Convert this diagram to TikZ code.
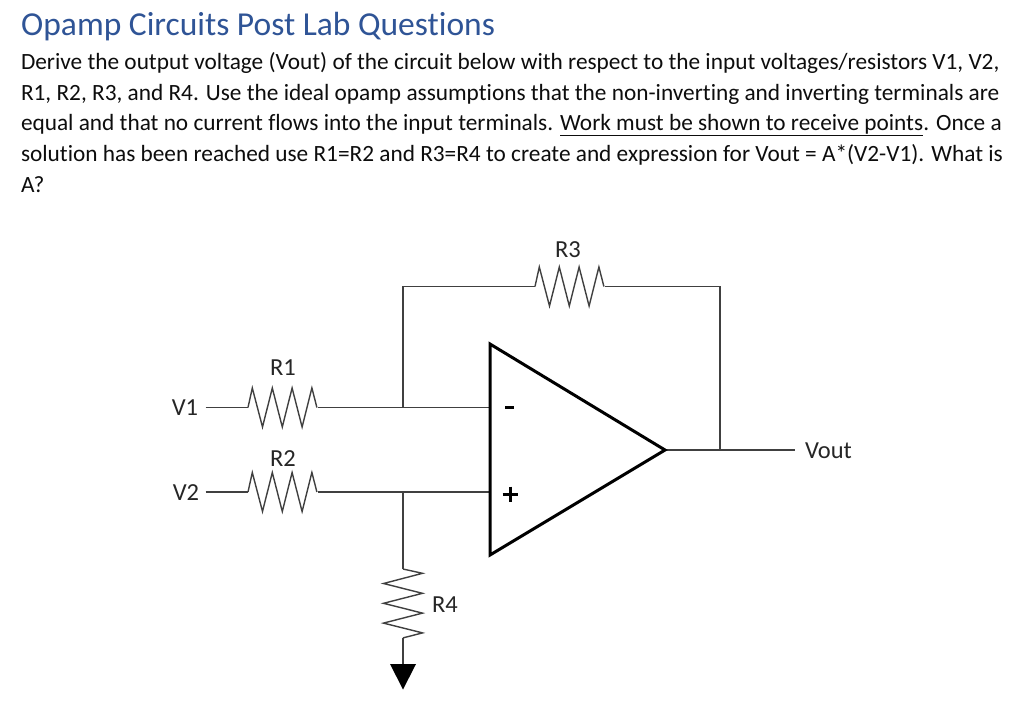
\documentclass[tikz,border=0pt]{standalone}
\usepackage{fontspec}
\setmainfont[Ligatures=NoCommon]{Carlito}
\definecolor{titleblue}{HTML}{2F5496}
\definecolor{wire}{HTML}{404040}
\newcommand{\bodysize}{\fontsize{23.3}{27}\selectfont}
\newcommand{\labsize}{\fontsize{24.5}{28}\selectfont}
\tikzset{
  x=1pt,y=-1pt,
  txt/.style={anchor=base west,inner sep=0pt,outer sep=0pt,font=\bodysize,text=black!95},
  lab/.style={anchor=base,inner sep=0pt,outer sep=0pt,font=\labsize,text=black!85},
  wireline/.style={draw=wire,line width=1.4pt,line join=miter},
  amp/.style={draw=black,line width=3pt,line join=miter},
  pt/.style={inner sep=0pt,outer sep=0pt,minimum size=0pt}
}
\newcommand{\reshor}[2]{% start x, y
  \draw[wireline] (#1,#2) -- ++(4.3,-19.5) -- ++(10.2,39) -- ++(9.8,-39) -- ++(10,39) -- ++(9.8,-39) -- ++(10,39) -- ++(9.8,-39) -- ++(5,19.5);
}
\begin{document}
\begin{tikzpicture}
\useasboundingbox (0,0) rectangle (1024,707);
\fill[white] (0,0) rectangle (1024,707);
% text
\node[anchor=base west,inner sep=0pt,font=\fontsize{33.5}{38}\selectfont,text=titleblue] (title) at (21,35) {Opamp Circuits Post Lab Questions};
\node[txt] (l1) at (21,69) {Derive the output voltage (Vout) of the circuit below with respect to the input voltages/resistors V1, V2,};
\node[txt] (l2) at (21,100) {R1, R2, R3, and R4. Use the ideal opamp assumptions that the non-inverting and inverting terminals are};
\node[txt] (l3) at (21,130.5) {equal and that no current flows into the input terminals. \underline{Work must be shown to receive points}. Once a};
\node[txt] (l4) at (21,161) {solution has been reached use R1=R2 and R3=R4 to create and expression for Vout = A*(V2-V1). What is};
\node[txt] (l5) at (21,192) {A?};
% junctions
\coordinate (v1e) at (205.5,407.5);
\coordinate (r1a) at (248,407.5);
\coordinate (r1b) at (317.5,407.5);
\coordinate (j1) at (403,407.5);
\coordinate (inm) at (490,407.5);
\coordinate (v2e) at (205.5,492);
\coordinate (r2a) at (248,492);
\coordinate (r2b) at (317.5,492);
\coordinate (j2) at (403,492);
\coordinate (inp) at (490,492);
\coordinate (tl) at (403,286.5);
\coordinate (r3a) at (535,286.5);
\coordinate (r3b) at (604.5,286.5);
\coordinate (tr) at (720,286.5);
\coordinate (oa) at (665,450);
\coordinate (jo) at (720,450);
\coordinate (ve) at (795,450);
\coordinate (r4a) at (403,569);
\coordinate (r4b) at (403,638);
\coordinate (g) at (403,665);
% wires
\draw[wireline] (v1e) -- (r1a);
\draw[wireline] (r1b) -- (j1) -- (inm);
\draw[wireline] (v2e) -- (r2a);
\draw[wireline] (r2b) -- (j2) -- (inp);
\draw[wireline] (j1) -- (tl) -- (r3a);
\draw[wireline] (r3b) -- (tr) -- (jo);
\draw[wireline] (oa) -- (jo) -- (ve);
\draw[wireline] (j2) -- (r4a);
\draw[wireline] (r4b) -- (g);
% resistors
\reshor{248}{407.5}
\reshor{248}{492}
\reshor{535}{286.5}
\draw[wireline] (403,569) -- ++(19.5,4.3) -- ++(-39,10.2) -- ++(39,9.8) -- ++(-39,10) -- ++(39,9.8) -- ++(-39,10) -- ++(39,9.8) -- ++(-19.5,5);
% ground
\fill[black] (390,664) -- (416,664) -- (403,689.5) -- cycle;
% opamp
\draw[amp] (490,344) -- (665,450) -- (490,555) -- cycle;
\draw[black,line width=3pt] (505,407.5) -- (514,407.5);
\draw[black,line width=3pt] (502.5,494) -- (517.5,494) (510,486.5) -- (510,501.5);
% labels
\node[lab] (lr3) at (568,257) {R3};
\node[lab] (lr1) at (283,375) {R1};
\node[lab] (lr2) at (283,466) {R2};
\node[lab] (lv1) at (185,415) {V1};
\node[lab] (lv2) at (186,500) {V2};
\node[lab] (lr4) at (445,612) {R4};
\node[lab,anchor=base west] (lvo) at (805,458) {Vout};
\end{tikzpicture}
\end{document}
